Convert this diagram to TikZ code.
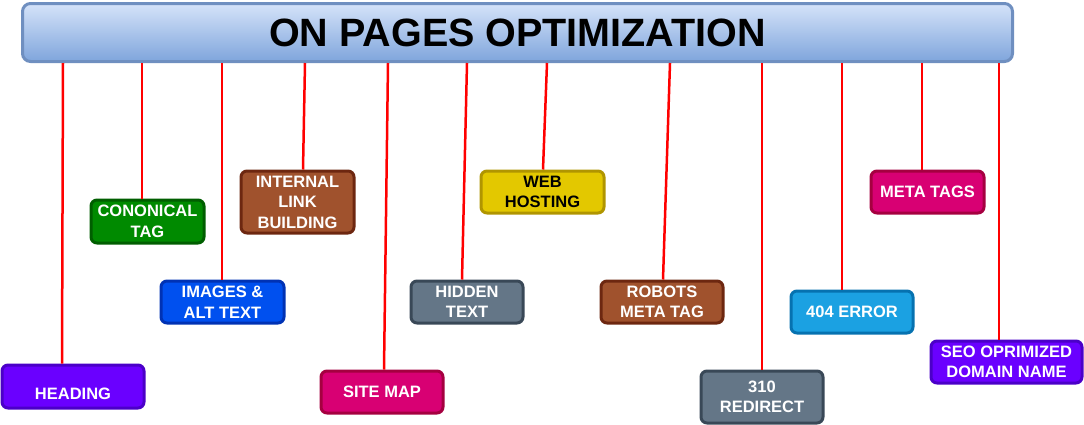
\documentclass[tikz,border=0pt]{standalone}
\usepackage{fontspec}
\setmainfont{Liberation Sans}
\usepackage{xcolor}
\usetikzlibrary{calc}

\definecolor{hdtop}{HTML}{D5E3F9}
\definecolor{hdbot}{HTML}{7FA5DC}
\definecolor{hdline}{HTML}{6F8FC0}
\definecolor{cpurple}{HTML}{6A00FF}
\definecolor{dpurple}{HTML}{4B00C8}
\definecolor{cgreen}{HTML}{008A00}
\definecolor{dgreen}{HTML}{005E00}
\definecolor{cblue}{HTML}{0050EF}
\definecolor{dblue}{HTML}{0032B4}
\definecolor{cbrown}{HTML}{A0522D}
\definecolor{dbrown}{HTML}{6D2710}
\definecolor{cmagenta}{HTML}{D80073}
\definecolor{dmagenta}{HTML}{A50040}
\definecolor{cslate}{HTML}{647687}
\definecolor{dslate}{HTML}{394857}
\definecolor{cyellow}{HTML}{E3C800}
\definecolor{dyellow}{HTML}{B09500}
\definecolor{csky}{HTML}{1BA1E2}
\definecolor{dsky}{HTML}{0672B0}

\begin{document}
\begin{tikzpicture}[x=1pt,y=-1pt,
		topic/.style={line width=3pt,rounded corners=6pt,inner sep=0pt,minimum height=42pt,
			align=center,text=white,font=\bfseries\fontsize{16.5}{20.5}\selectfont},
		link/.style={red,line width=2.5pt}]
	
	\useasboundingbox (0,0) rectangle (1084,424);
	
	% titel
	\node[draw=hdline,line width=3pt,rounded corners=8pt,top color=hdtop,bottom color=hdbot,
		minimum width=990pt,minimum height=58pt,inner sep=0pt,
		font=\bfseries\fontsize{39.5}{44}\selectfont] (main) at (517.5,32.5) {ON PAGES OPTIMIZATION};
	
	% onderwerpen
	\node[topic,fill=cpurple,draw=dpurple,minimum width=142pt,minimum height=43pt,text height=26pt,text depth=0pt] (heading) at (73,386.5) {HEADING};
	\node[topic,fill=cgreen,draw=dgreen,minimum width=113pt,minimum height=43pt] (canon) at (147.5,221.5) {CONONICAL\\TAG};
	\node[topic,fill=cblue,draw=dblue,minimum width=123pt] (images) at (222.5,302) {IMAGES \&\\ALT TEXT};
	\node[topic,fill=cbrown,draw=dbrown,minimum width=113pt,minimum height=62pt] (internal) at (297.5,202) {INTERNAL\\LINK\\BUILDING};
	\node[topic,fill=cmagenta,draw=dmagenta,minimum width=122pt] (sitemap) at (382,392) {SITE MAP};
	\node[topic,fill=cslate,draw=dslate,minimum width=112pt] (hidden) at (467,302) {HIDDEN\\TEXT};
	\node[topic,fill=cyellow,draw=dyellow,minimum width=123pt,text=black] (hosting) at (542.5,192) {WEB\\HOSTING};
	\node[topic,fill=cbrown,draw=dbrown,minimum width=122pt] (robots) at (662,302) {ROBOTS\\META TAG};
	\node[topic,fill=cslate,draw=dslate,minimum width=122pt,minimum height=52pt] (redirect) at (762,397) {310\\REDIRECT};
	\node[topic,fill=csky,draw=dsky,minimum width=122pt] (error) at (852,312) {404 ERROR};
	\node[topic,fill=cmagenta,draw=dmagenta,minimum width=113pt] (metatags) at (927.5,192) {META TAGS};
	\node[topic,fill=cpurple,draw=dpurple,minimum width=151pt] (domain) at (1006.5,362) {SEO OPRIMIZED\\DOMAIN NAME};
	
	% verbindingen
	\foreach \n/\tx/\dx in {heading/63/-11,canon/142/-5.5,images/222/-0.5,internal/305/5.5,
		sitemap/388/2,hidden/467/-5,hosting/547/0.5,robots/670/1,redirect/762/0,
		error/842/-10,metatags/922/-5.5,domain/999/-7.5}
	{
		\coordinate (top-\n) at (\tx,63);
		\draw[link] (top-\n) -- ([xshift=\dx pt]\n.north);
	}
	
\end{tikzpicture}
\end{document}
